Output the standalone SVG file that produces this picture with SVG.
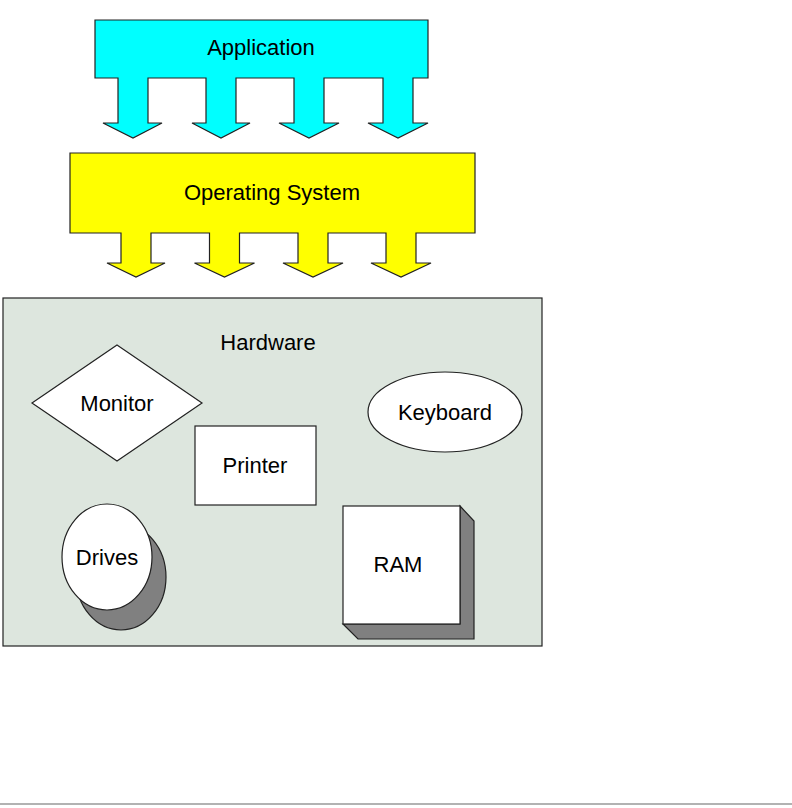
<svg xmlns="http://www.w3.org/2000/svg" width="792" height="808" viewBox="0 0 792 808">
<style>
text{font-family:"Liberation Sans",Arial,sans-serif;font-size:22px;fill:#000;text-anchor:middle}
.o{stroke:#222;stroke-width:1.2}
</style>
<rect width="792" height="808" fill="#fff"/>
<g id="application">
<path class="o" fill="#00ffff" d="M95,20H428V78H413V123H428L398,138L368,123H383V78H324V123H339L309,138L279,123H294V78H236V123H250L221,138L192,123H206V78H148V123H162L133,138L103,123H118V78H95Z"/>
<text x="261" y="55">Application</text>
</g>
<g id="os">
<path class="o" fill="#ffff00" d="M70,153H475V233H416V263H431L401,277L371,263H386V233H328V263H343L313,277L283,263H298V233H239.5V263H254.5L224.5,277L194.5,263H209.5V233H151V263H165L136,277L107,263H121V233H70Z"/>
<text x="272" y="200">Operating System</text>
</g>
<g id="hardware">
<rect class="o" x="3" y="298" width="539" height="348" fill="#dde6de"/>
<text x="268" y="350">Hardware</text>
</g>
<g id="monitor">
<polygon class="o" points="117,345 202,403 117,461 32,403" fill="#fff"/>
<text x="117" y="411">Monitor</text>
</g>
<g id="printer">
<rect class="o" x="195" y="426" width="121" height="79" fill="#fff"/>
<text x="255" y="473">Printer</text>
</g>
<g id="keyboard">
<ellipse class="o" cx="445" cy="412" rx="77" ry="40" fill="#fff"/>
<text x="445" y="420">Keyboard</text>
</g>
<g id="drives">
<ellipse class="o" cx="121" cy="577" rx="45" ry="53" fill="#808080"/>
<ellipse class="o" cx="107" cy="557" rx="45" ry="53" fill="#fff"/>
<text x="107" y="565">Drives</text>
</g>
<g id="ram">
<polygon class="o" points="460,506 474,521 474,639 358,639 343,624 460,624" fill="#808080"/>
<rect class="o" x="343" y="506" width="117" height="118" fill="#fff"/>
<text x="398" y="572">RAM</text>
</g>
<g id="connectors"></g>
<line x1="0" y1="804" x2="792" y2="804" stroke="#999" stroke-width="1.5"/>
</svg>
